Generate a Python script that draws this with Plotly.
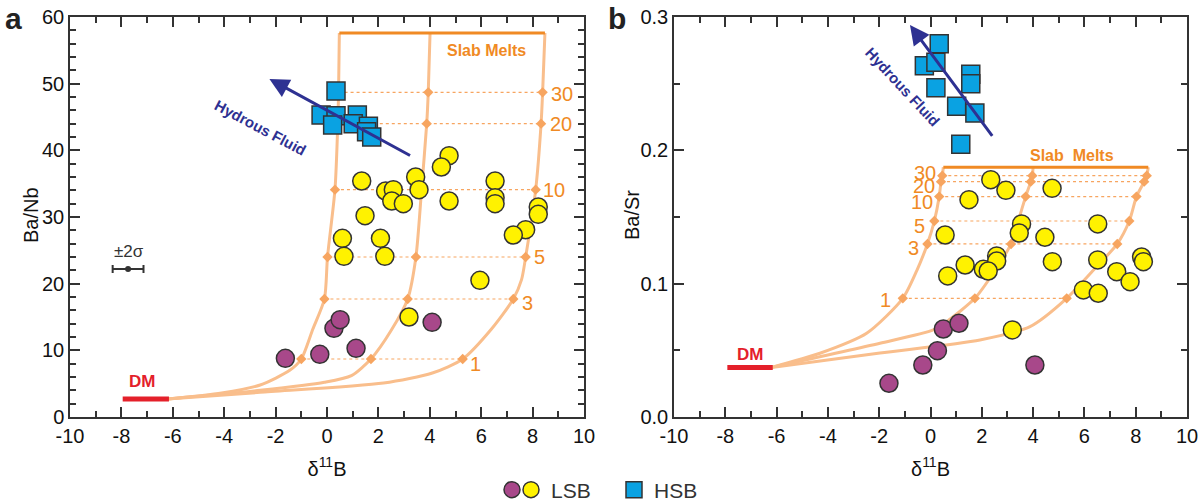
import plotly.graph_objects as go

# ---- panel a : Ba/Nb vs d11B ----
a_lsb_p_x = [-1.62, -0.28, 0.27, 0.51, 1.13, 4.09]
a_lsb_p_y = [8.8, 9.4, 13.3, 14.6, 10.3, 14.2]
a_lsb_y_x = [4.75, 4.45, 1.35, 3.45, 3.58, 2.28, 2.58, 2.52, 2.97, 4.75, 6.54, 6.54,
             6.54, 1.48, 8.22, 8.22, 7.73, 7.25, 0.60, 2.08, 0.66, 2.25, 5.95, 3.19]
a_lsb_y_y = [39.2, 37.5, 35.4, 36.0, 34.1, 33.9, 34.1, 32.4, 32.0, 32.4, 35.4, 32.9,
             32.0, 30.2, 31.5, 30.4, 28.1, 27.3, 26.8, 26.8, 24.1, 24.1, 20.5, 15.0]
a_hsb_x = [0.35, -0.23, 0.35, 0.22, 1.18, 1.02, 1.61, 1.54, 1.74]
a_hsb_y = [48.9, 45.3, 45.2, 43.8, 45.3, 44.0, 43.6, 42.8, 42.0]

# ---- panel b : Ba/Sr vs d11B ----
b_lsb_p_x = [-1.62, -0.30, 0.27, 0.50, 1.11, 4.07]
b_lsb_p_y = [0.0253, 0.039, 0.0497, 0.066, 0.0703, 0.039]
b_lsb_y_x = [2.35, 2.94, 4.74, 1.50, 3.55, 3.46, 4.46, 6.52, 0.57, 0.67, 1.35, 2.06,
             2.58, 2.58, 2.25, 4.75, 6.52, 7.26, 7.78, 8.23, 8.30, 5.96, 6.54, 3.19]
b_lsb_y_y = [0.178, 0.170, 0.1715, 0.163, 0.1448, 0.138, 0.1348, 0.1448, 0.1365, 0.1058,
             0.114, 0.1108, 0.1208, 0.117, 0.1095, 0.1165, 0.1178, 0.109, 0.1015, 0.120,
             0.1165, 0.0953, 0.0928, 0.0653]
b_hsb_x = [0.34, -0.24, 0.21, 0.21, 1.57, 1.57, 1.02, 1.73, 1.18]
b_hsb_y = [0.280, 0.2635, 0.266, 0.247, 0.257, 0.250, 0.233, 0.228, 0.2045]

# ---- mixing model (DM - slab melt) ----
pct_labels = ["1", "3", "5", "10", "20", "30"]
a_pct_y = [8.7, 17.7, 24.0, 34.1, 44.0, 48.7]
a_c1_dx = [-1.0, -0.1, 0.02, 0.31, 0.42, 0.45]
a_c2_dx = [1.71, 3.14, 3.46, 3.68, 3.88, 3.94]
a_c3_dx = [5.28, 7.25, 7.73, 8.12, 8.33, 8.39]
a_lab_x = [5.5, 7.5, 7.99, 8.32, 8.6, 8.65]
a_lab_y = [7.9, 17.1, 24.0, 34.1, 44.0, 48.4]
a_c1_x = [-6.2, -4.1, -2.6, -1.45, -1.0, -0.55, -0.1, 0.02, 0.31, 0.42, 0.45, 0.48]
a_c1_y = [2.7, 3.6, 4.8, 7.0, 8.7, 13.2, 17.7, 24.0, 34.1, 44.0, 48.7, 57.6]
a_c2_x = [-6.2, -2.6, -0.1, 0.95, 1.71, 2.5, 3.14, 3.46, 3.68, 3.88, 3.94, 4.01]
a_c2_y = [2.7, 4.0, 5.2, 6.2, 8.7, 13.0, 17.7, 24.0, 34.1, 44.0, 48.7, 57.6]
a_c3_x = [-6.2, -2.6, 2.2, 4.1, 5.28, 6.4, 7.25, 7.57, 7.73, 8.12, 8.33, 8.39, 8.48]
a_c3_y = [2.7, 3.7, 5.1, 6.6, 8.7, 13.2, 17.7, 20.6, 24.0, 34.1, 44.0, 48.7, 57.6]
a_slab_x = [0.48, 8.48]
a_slab_y = [57.6, 57.6]
a_dm_x = [-7.95, -6.15]
a_dm_y = [2.7, 2.7]

b_pct_y = [0.089, 0.1298, 0.147, 0.1653, 0.1765, 0.181]
b_c1_dx = [-1.08, -0.12, 0.15, 0.34, 0.41, 0.46]
b_c2_dx = [1.73, 3.14, 3.42, 3.71, 3.91, 3.97]
b_c3_dx = [5.31, 7.28, 7.75, 8.03, 8.33, 8.43]
b_lab_x = [-1.45, -0.38, -0.15, 0.18, 0.24, 0.31]
b_lab_y = [0.0878, 0.1265, 0.143, 0.1615, 0.173, 0.183]
b_c1_x = [-6.2, -4.31, -2.49, -1.08, -0.53, -0.12, 0.15, 0.34, 0.41, 0.46, 0.50]
b_c1_y = [0.0372, 0.0478, 0.0628, 0.089, 0.110, 0.1298, 0.147, 0.1653, 0.1765, 0.181, 0.1873]
b_c2_x = [-6.2, -1.97, 0.11, 0.63, 1.73, 2.45, 3.14, 3.42, 3.71, 3.91, 3.97, 4.0]
b_c2_y = [0.0372, 0.0553, 0.0653, 0.0715, 0.089, 0.108, 0.1298, 0.147, 0.1653, 0.1765, 0.181, 0.1873]
b_c3_x = [-6.2, -1.97, 1.93, 3.88, 5.31, 6.48, 7.28, 7.75, 8.03, 8.33, 8.43, 8.49]
b_c3_y = [0.0372, 0.048, 0.0578, 0.0678, 0.089, 0.1128, 0.1298, 0.147, 0.1653, 0.1765, 0.181, 0.1873]
b_slab_x = [0.50, 8.49]
b_slab_y = [0.1873, 0.1873]
b_dm_x = [-7.92, -6.15]
b_dm_y = [0.0372, 0.0372]

# analytical uncertainty (panel a)
sig_x = [-7.74]
sig_y = [22.2]
sig_err = [0.6]

x_ticks = [-10, -8, -6, -4, -2, 0, 2, 4, 6, 8, 10]
x_ticktext = ["-10", "-8", "-6", "-4", "-2", "0", "2", "4", "6", "8", "10"]

PURPLE = "#A8488A"
YELLOW = "#FFF200"
BLUE = "#0AA2E2"
EDGE = "#333333"
CURVE = "#F9BE8C"
DIAM = "#F7A560"
ORANGE = "#F08A24"
RED = "#E4202A"
NAVY = "#2E3192"
FONT = "Liberation Sans, Arial, sans-serif"

W, H = 1200, 500

fig = go.Figure()


def add_panel(xa, ya, c_list, d_list, pct_y, slab_x, slab_y, dm_x, dm_y, pts, legend):
    # mixing curves
    for cx, cy in c_list:
        fig.add_trace(go.Scatter(x=cx, y=cy, mode="lines", xaxis=xa, yaxis=ya,
                                 line=dict(color=CURVE, width=3, shape="spline", smoothing=0.7),
                                 hoverinfo="skip", showlegend=False))
    # dotted iso-percentage lines
    hx, hy = [], []
    for i, yv in enumerate(pct_y):
        hx += [d_list[0][i], d_list[2][i], None]
        hy += [yv, yv, None]
    fig.add_trace(go.Scatter(x=hx, y=hy, mode="lines", xaxis=xa, yaxis=ya,
                             line=dict(color=DIAM, width=1.2, dash="dot"),
                             hoverinfo="skip", showlegend=False))
    for dx in d_list:
        fig.add_trace(go.Scatter(x=dx, y=pct_y, mode="markers", xaxis=xa, yaxis=ya,
                                 marker=dict(symbol="diamond", size=8, color=DIAM),
                                 hoverinfo="skip", showlegend=False))
    fig.add_trace(go.Scatter(x=slab_x, y=slab_y, mode="lines", xaxis=xa, yaxis=ya,
                             line=dict(color=ORANGE, width=3), showlegend=False))
    fig.add_trace(go.Scatter(x=dm_x, y=dm_y, mode="lines", xaxis=xa, yaxis=ya,
                             line=dict(color=RED, width=5), showlegend=False))
    (px_, py_), (yx_, yy_), (hx_, hy_) = pts
    fig.add_trace(go.Scatter(x=px_, y=py_, mode="markers", xaxis=xa, yaxis=ya, name=" ",
                             marker=dict(symbol="circle", size=18, color=PURPLE,
                                         line=dict(color=EDGE, width=1.5)),
                             showlegend=legend, legend="legend2"))
    fig.add_trace(go.Scatter(x=yx_, y=yy_, mode="markers", xaxis=xa, yaxis=ya, name="LSB",
                             marker=dict(symbol="circle", size=18, color=YELLOW,
                                         line=dict(color=EDGE, width=1.5)),
                             showlegend=legend, legendrank=1))
    fig.add_trace(go.Scatter(x=hx_, y=hy_, mode="markers", xaxis=xa, yaxis=ya, name="HSB",
                             marker=dict(symbol="square", size=18, color=BLUE,
                                         line=dict(color=EDGE, width=1.5)),
                             showlegend=legend, legendrank=2))


add_panel("x", "y", [(a_c1_x, a_c1_y), (a_c2_x, a_c2_y), (a_c3_x, a_c3_y)],
          [a_c1_dx, a_c2_dx, a_c3_dx], a_pct_y, a_slab_x, a_slab_y, a_dm_x, a_dm_y,
          [(a_lsb_p_x, a_lsb_p_y), (a_lsb_y_x, a_lsb_y_y), (a_hsb_x, a_hsb_y)], True)
add_panel("x2", "y2", [(b_c1_x, b_c1_y), (b_c2_x, b_c2_y), (b_c3_x, b_c3_y)],
          [b_c1_dx, b_c2_dx, b_c3_dx], b_pct_y, b_slab_x, b_slab_y, b_dm_x, b_dm_y,
          [(b_lsb_p_x, b_lsb_p_y), (b_lsb_y_x, b_lsb_y_y), (b_hsb_x, b_hsb_y)], False)

# +-2 sigma
fig.add_trace(go.Scatter(x=sig_x, y=sig_y, mode="markers", xaxis="x", yaxis="y",
                         marker=dict(size=6, color=EDGE),
                         error_x=dict(type="data", array=sig_err, color=EDGE, thickness=2, width=4),
                         showlegend=False))

ann = []
# percentage labels
for i, lab in enumerate(pct_labels):
    ann.append(dict(x=a_lab_x[i], y=a_lab_y[i], xref="x", yref="y", text=lab,
                    showarrow=False, xanchor="left", yanchor="middle",
                    font=dict(color=ORANGE, size=20, family=FONT)))
    ann.append(dict(x=b_lab_x[i], y=b_lab_y[i], xref="x2", yref="y2", text=lab,
                    showarrow=False, xanchor="right", yanchor="middle",
                    font=dict(color=ORANGE, size=20, family=FONT)))
ann += [
    dict(x=6.2, y=55.0, xref="x", yref="y", text="<b>Slab Melts</b>", showarrow=False,
         font=dict(color=ORANGE, size=16, family=FONT)),
    dict(x=5.5, y=0.1965, xref="x2", yref="y2", text="<b>Slab  Melts</b>", showarrow=False,
         font=dict(color=ORANGE, size=16, family=FONT)),
    dict(x=-7.2, y=5.3, xref="x", yref="y", text="<b>DM</b>", showarrow=False,
         font=dict(color=RED, size=17, family=FONT)),
    dict(x=-7.05, y=0.047, xref="x2", yref="y2", text="<b>DM</b>", showarrow=False,
         font=dict(color=RED, size=17, family=FONT)),
    dict(x=-7.7, y=24.8, xref="x", yref="y", text="±2σ", showarrow=False,
         font=dict(color=EDGE, size=17, family=FONT)),
    # hydrous fluid arrows
    dict(x=-2.24, y=50.7, ax=3.29, ay=39.1, xref="x", yref="y", axref="x", ayref="y",
         showarrow=True, arrowhead=2, arrowsize=1.3, arrowwidth=3, arrowcolor=NAVY, text=""),
    dict(x=-0.8, y=0.294, ax=2.45, ay=0.2098, xref="x2", yref="y2", axref="x2", ayref="y2",
         showarrow=True, arrowhead=2, arrowsize=1.3, arrowwidth=3, arrowcolor=NAVY, text=""),
    dict(x=-2.6, y=43.4, xref="x", yref="y", text="<b>Hydrous Fluid</b>", showarrow=False,
         textangle=28, font=dict(color=NAVY, size=15, family=FONT)),
    dict(x=-1.1, y=0.2476, xref="x2", yref="y2", text="<b>Hydrous Fluid</b>", showarrow=False,
         textangle=47, font=dict(color=NAVY, size=15, family=FONT)),
    # y axis titles
    dict(x=18 / W, y=1 - 215 / H, xref="paper", yref="paper", text="Ba/Nb",
         textangle=-90, showarrow=False, font=dict(size=20, color="#111", family=FONT)),
    dict(x=632 / W, y=1 - 215 / H, xref="paper", yref="paper", text="Ba/Sr",
         textangle=-90, showarrow=False, font=dict(size=20, color="#111", family=FONT)),
    # panel letters
    dict(x=3 / W, y=1.0, xref="paper", yref="paper", text="<b>a</b>", showarrow=False,
         xanchor="left", yanchor="top", font=dict(color="#222", size=30, family=FONT)),
    dict(x=606 / W, y=1.0, xref="paper", yref="paper", text="<b>b</b>", showarrow=False,
         xanchor="left", yanchor="top", font=dict(color="#222", size=30, family=FONT)),
]

axis_common = dict(showline=True, linecolor=EDGE, linewidth=1.5, mirror="ticks",
                   ticks="inside", ticklen=10, tickwidth=1.5, tickcolor=EDGE,
                   showgrid=False, zeroline=False, automargin=False,
                   tickfont=dict(size=20, color="#111", family=FONT))
xcommon = dict(axis_common, range=[-10, 10], tickvals=x_ticks, ticktext=x_ticktext,
               minor=dict(dtick=1, ticks="inside", ticklen=6, tickwidth=1.5, tickcolor=EDGE),
               title=dict(text="δ<sup>11</sup>B", font=dict(size=20, color="#111", family=FONT),
                          standoff=16))

fig.update_layout(
    width=W, height=H,
    paper_bgcolor="white", plot_bgcolor="white",
    margin=dict(l=0, r=0, t=0, b=0, autoexpand=False),
    font=dict(family=FONT),
    xaxis=dict(xcommon, domain=[70 / W, 584 / W], anchor="y"),
    xaxis2=dict(xcommon, domain=[674 / W, 1187 / W], anchor="y2"),
    yaxis=dict(axis_common, domain=[1 - 417 / H, 1 - 17 / H], range=[0, 60], dtick=10, anchor="x",
               minor=dict(dtick=2, ticks="inside", ticklen=6, tickwidth=1.5, tickcolor=EDGE)),
    yaxis2=dict(axis_common, domain=[1 - 417 / H, 1 - 17 / H], range=[0, 0.3], dtick=0.1,
                anchor="x2", tickformat=".1f",
                minor=dict(dtick=0.05, ticks="inside", ticklen=6, tickwidth=1.5, tickcolor=EDGE)),
    legend=dict(orientation="h", x=(531 - 20) / W, xanchor="left", y=1 - 490 / H,
                yanchor="middle", font=dict(size=21, color="#333", family=FONT),
                entrywidth=58, entrywidthmode="pixels",
                traceorder="normal", bgcolor="rgba(0,0,0,0)"),
    legend2=dict(orientation="h", x=(512 - 20) / W, xanchor="left", y=1 - 490 / H,
                 yanchor="middle", font=dict(size=21, color="#333", family=FONT),
                 bgcolor="rgba(0,0,0,0)"),
    annotations=ann,
)

# the default page body margin would shift the figure by 8px
fig.write_html("out.html", config={"displayModeBar": False},
               post_script="document.body.style.margin = '0';")
